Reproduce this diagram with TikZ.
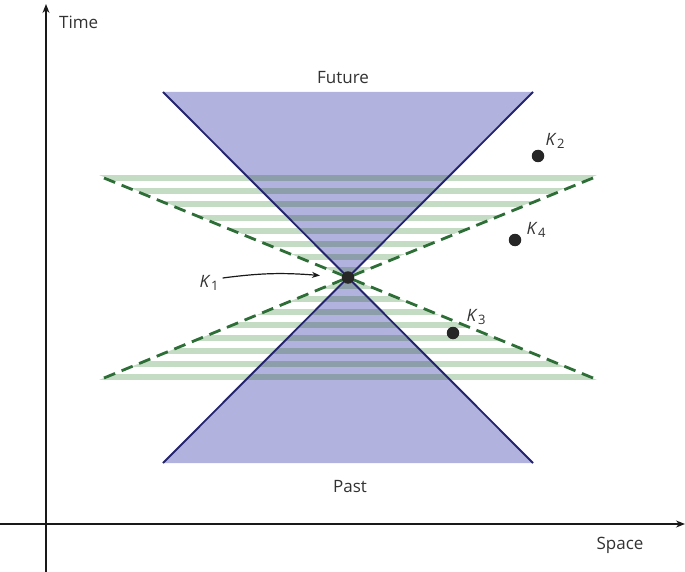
\documentclass[tikz,border=0pt]{standalone}
\usepackage{fontspec}
\setmainfont{Open Sans}
\usetikzlibrary{arrows.meta}
\definecolor{conefill}{RGB}{178,178,222}
\definecolor{coneedge}{RGB}{35,35,110}
\definecolor{stripegreen}{RGB}{197,220,196}
\definecolor{stripeover}{RGB}{140,158,170}
\definecolor{dashgreen}{RGB}{45,110,55}
\definecolor{txt}{RGB}{50,50,50}
\newcommand{\klab}[1]{\textit{K}\kern0.5pt\raisebox{-0.35ex}{\fontsize{13}{15}\selectfont #1}}
\begin{document}
\begin{tikzpicture}[x=1pt,y=-1pt,
  lbl/.style={text=txt,font=\fontsize{17}{19}\selectfont,inner sep=0pt},
  dot/.style={circle,fill=black!85,minimum size=12.5pt,inner sep=0pt},
  coneline/.style={draw=coneedge,line width=1.9pt},
  dashline/.style={draw=dashgreen,line width=2.8pt,dash pattern=on 12pt off 7pt},
  axis/.style={draw=black!90,line width=1.3pt},
  axtip/.style={-{Stealth[length=9pt,width=7pt]}}]
\useasboundingbox (0,0) rectangle (685,572);
% cones
\coordinate (apex) at (348,277.5);
\coordinate (ftl) at (163,92);
\coordinate (ftr) at (533,92);
\coordinate (pbl) at (163,463);
\coordinate (pbr) at (533,463);
\fill[conefill] (ftl) -- (ftr) -- (apex) -- cycle;
\fill[conefill] (pbl) -- (pbr) -- (apex) -- cycle;
% stripes (green)
\begin{scope}
  \clip (99,175) -- (597,175) -- (apex) -- cycle;
  \foreach \k in {0,...,7}{\fill[stripegreen] (90,{277.5-99+13*\k-3}) rectangle (610,{277.5-99+13*\k+3});}
\end{scope}
\begin{scope}
  \clip (99,380) -- (597,380) -- (apex) -- cycle;
  \foreach \k in {0,...,7}{\fill[stripegreen] (90,{277.5+99-13*\k-3}) rectangle (610,{277.5+99-13*\k+3});}
\end{scope}
% stripes over cones
\begin{scope}
  \clip (ftl) -- (ftr) -- (apex) -- cycle;
  \clip (99,175) -- (597,175) -- (apex) -- cycle;
  \foreach \k in {0,...,7}{\fill[stripeover] (90,{277.5-99+13*\k-3}) rectangle (610,{277.5-99+13*\k+3});}
\end{scope}
\begin{scope}
  \clip (pbl) -- (pbr) -- (apex) -- cycle;
  \clip (99,380) -- (597,380) -- (apex) -- cycle;
  \foreach \k in {0,...,7}{\fill[stripeover] (90,{277.5+99-13*\k-3}) rectangle (610,{277.5+99-13*\k+3});}
\end{scope}
% cone edges
\draw[coneline] (ftl) -- (pbr);
\draw[coneline] (ftr) -- (pbl);
% dashed light-like lines
\coordinate (dul) at (104,178);
\coordinate (dur) at (593,178);
\coordinate (dll) at (104,378);
\coordinate (dlr) at (593,378);
\draw[dashline] (dul) -- (apex);
\draw[dashline] (dur) -- (apex);
\draw[dashline] (dll) -- (apex);
\draw[dashline] (dlr) -- (apex);
% axes
\coordinate (vb) at (46,572);
\coordinate (vt) at (46,4);
\coordinate (hl) at (0,524);
\coordinate (hr) at (685,524);
\draw[axis,axtip] (vb) -- (vt);
\draw[axis,axtip] (hl) -- (hr);
\node[lbl,anchor=west] (time) at (59,22) {Time};
\node[lbl] (space) at (620,545) {Space};
\node[lbl] (future) at (343,78) {Future};
\node[lbl] (past) at (350,487) {Past};
% points
\node[dot] (k1) at (apex) {};
\node[dot] (k2) at (538,156) {};
\node[dot] (k4) at (515,240) {};
\node[dot] (k3) at (453,333) {};
\node[lbl] (k2l) at (555,141) {\klab{2}};
\node[lbl] (k4l) at (536,230) {\klab{4}};
\node[lbl] (k3l) at (476,317) {\klab{3}};
\node[lbl] (k1l) at (209,283) {\klab{1}};
\coordinate (k1tip) at (320,275.5);
\draw[line width=1.2pt,black!90,-{Stealth[length=8pt,width=6pt]}] (k1l.east) ++(4,-5) to[bend left=6] (k1tip);
\end{tikzpicture}
\end{document}
